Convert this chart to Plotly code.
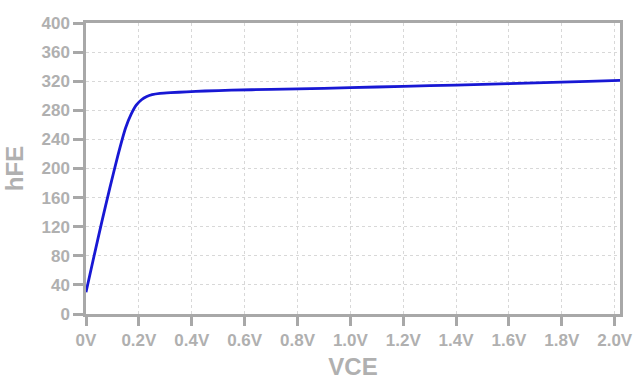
import plotly.graph_objects as go

vce = [0.000, 0.030, 0.060, 0.090, 0.120, 0.150, 0.170, 0.190, 0.210, 0.230, 0.250, 0.280, 0.320, 0.380, 0.450, 0.550, 0.700, 0.900, 1.100, 1.300, 1.500, 1.700, 1.900, 2.020]
hfe = [30, 79, 127, 173, 217, 256, 274, 287, 294.5, 299, 301.5, 303.3, 304.3, 305.3, 306.5, 307.6, 308.8, 310.2, 312, 313.8, 315.6, 317.6, 319.8, 321]

x_ticks = [0, 0.2, 0.4, 0.6, 0.8, 1.0, 1.2, 1.4, 1.6, 1.8, 2.0]
x_labels = ["0V", "0.2V", "0.4V", "0.6V", "0.8V", "1.0V", "1.2V", "1.4V", "1.6V", "1.8V", "2.0V"]
y_ticks = list(range(0, 401, 40))

gray = "#b0b0b0"
fig = go.Figure()
fig.add_trace(go.Scatter(x=vce, y=hfe, mode="lines", line=dict(color="#1818d4", width=2.8, shape="spline", smoothing=0.6), showlegend=False))

font_ticks = dict(family="Liberation Sans, Arial, sans-serif", size=17, color=gray, weight="bold")
fig.update_layout(
    width=640, height=390,
    margin=dict(l=86, r=20, t=23, b=76),
    paper_bgcolor="white", plot_bgcolor="white",
    font=dict(family="Liberation Sans, Arial, sans-serif", color=gray),
)
fig.update_xaxes(
    range=[0, 2.02], tickvals=x_ticks, ticktext=x_labels,
    tickfont=font_ticks, ticks="outside", ticklen=9, tickwidth=2.5, tickcolor="#a8a8a8",
    showline=True, linecolor="#a8a8a8", linewidth=2.5, mirror=True,
    showgrid=True, gridcolor="#d8d8d8", griddash="dot", gridwidth=1,
    zeroline=False, automargin=False,
    title=dict(text="<b>VCE</b>", font=dict(size=24, color=gray), standoff=10),
)
fig.update_yaxes(
    range=[0, 400], tickvals=y_ticks,
    tickfont=font_ticks, ticks="outside", ticklen=10, tickwidth=2.5, tickcolor="#a8a8a8",
    showline=True, linecolor="#a8a8a8", linewidth=2.5, mirror=True,
    showgrid=True, gridcolor="#d8d8d8", griddash="dot", gridwidth=1,
    zeroline=False, automargin=False,
    title=dict(text="<b>hFE</b>", font=dict(size=24, color=gray), standoff=12),
)
fig.write_html("out.html")
